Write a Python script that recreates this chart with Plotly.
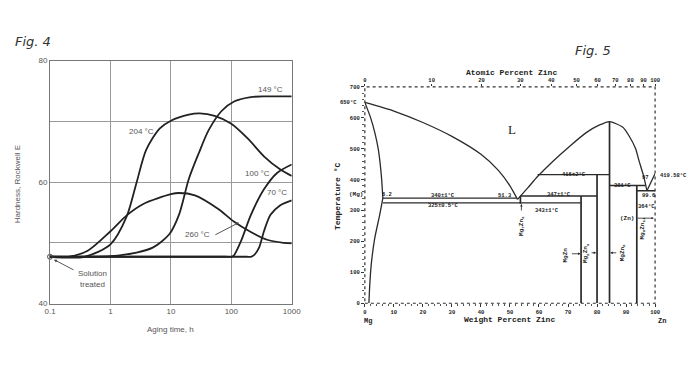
import plotly.graph_objects as go

W, H = 700, 370
def PX(x): return x / W
def PY(y): return 1 - y / H

# ---------------- Fig. 4 data (aging time h, hardness Rockwell E) ----------------
time_260 = [0.1, 0.2, 0.42, 1, 1.9, 3.5, 10, 13.5, 25, 60, 110, 200, 390, 730, 1000]
hard_260 = [47.7, 47.7, 48.7, 51.9, 54.6, 56.4, 58.0, 58.2, 57.8, 55.6, 53.5, 51.9, 50.5, 50.0, 49.9]
time_204 = [0.1, 0.37, 1, 1.85, 2.7, 3.9, 6.5, 10, 19.8, 30, 53, 100, 190, 350, 640, 1000]
hard_204 = [47.7, 47.7, 49.75, 54.3, 59.9, 65.3, 68.8, 70.1, 71.1, 71.3, 70.9, 69.6, 67.1, 64.2, 62.1, 61.0]
time_149 = [0.1, 0.42, 1, 2.7, 5, 9.4, 13.6, 19.8, 28.8, 42, 69, 113, 210, 390, 1000]
hard_149 = [47.7, 47.7, 47.8, 48.4, 49.2, 51.4, 54.6, 60.5, 64.7, 68.5, 71.7, 73.3, 74.0, 74.1, 74.1]
time_100 = [0.1, 80, 100, 110, 145, 211, 347, 571, 1000]
hard_100 = [47.7, 47.7, 47.7, 47.9, 50.3, 54.6, 58.8, 61.5, 62.9]
time_70 = [0.1, 180, 211, 240, 288, 347, 445, 647, 1000]
hard_70 = [47.7, 47.7, 47.7, 48.0, 49.2, 51.9, 54.6, 56.2, 57.0]
solution_time = [0.1]
solution_hard = [47.7]

# ---------------- Fig. 5 data (weight % Zn, temperature C) ----------------
liq_mg_wt = [0, 10, 20, 30, 40, 46, 50, 52.6]
liq_mg_T = [650, 622, 585, 540, 482, 430, 380, 336]
sol_mg_wt = [0, 2, 3.5, 4.6, 5.3, 5.8, 6.2]
sol_mg_T = [650, 600, 550, 500, 450, 400, 340]
solv_mg_wt = [6.2, 5.9, 5.1, 3.4, 2.2, 1.7, 1.4]
solv_mg_T = [340, 325, 285, 210, 125, 60, 0]
dome_wt = [52.6, 56.2, 59.5, 65.2, 70.8, 76.4, 80.9, 84.3, 88.8, 91, 93.3, 94.4, 96.1, 97.2]
dome_T = [336, 374, 410, 463, 510, 553, 577, 588, 570, 542, 500, 463, 410, 364]
liq_zn_wt = [97.2, 100]
liq_zn_T = [364, 419.58]
iso_T = [340, 325, 347, 416, 381, 364]
iso_wt0 = [6.2, 6.2, 53.6, 59.5, 84.3, 93.7]
iso_wt1 = [52.3, 74.5, 80, 84.3, 96.6, 100]
comp_wt = [53.6, 74.5, 80, 84.3, 93.7]
comp_T0 = [322, 0, 0, 0, 0]
comp_T1 = [347, 347, 416, 588, 381]
at_ticks = [0, 10, 20, 30, 40, 50, 60, 70, 80, 90, 100]
wt_ticks = [0, 10, 20, 30, 40, 50, 60, 70, 80, 90, 100]
T_ticks = [0, 100, 200, 300, 400, 500, 600, 700]

M_ZN, M_MG = 65.38, 24.305
def at_to_wt(a):
    return 100.0 * a * M_ZN / (a * M_ZN + (100 - a) * M_MG)

F4 = "Liberation Sans"
F5 = "Liberation Mono"
C4 = "#555555"
LC = "#222222"

fig = go.Figure()

# ---- Fig 4 curves ----
for t, h in [(time_260, hard_260), (time_204, hard_204), (time_149, hard_149),
             (time_100, hard_100), (time_70, hard_70)]:
    fig.add_trace(go.Scatter(x=t, y=h, mode="lines", xaxis="x", yaxis="y",
                             line=dict(color=LC, width=1.8, shape="spline", smoothing=0.8),
                             showlegend=False, hoverinfo="skip"))
fig.add_trace(go.Scatter(x=solution_time, y=solution_hard, mode="markers", xaxis="x", yaxis="y",
                         marker=dict(symbol="circle-open", size=5, color="#444", line=dict(width=1)),
                         showlegend=False, cliponaxis=False, hoverinfo="skip"))

# ---- Fig 5 lines ----
P5 = dict(color="#2a2a2a", width=1.3)
for wts, Ts in [(liq_mg_wt, liq_mg_T), (sol_mg_wt, sol_mg_T), (solv_mg_wt, solv_mg_T),
                (dome_wt, dome_T), (liq_zn_wt, liq_zn_T)]:
    fig.add_trace(go.Scatter(x=wts, y=Ts, mode="lines", xaxis="x2", yaxis="y2",
                             line=dict(P5, shape="spline", smoothing=0.6),
                             showlegend=False, hoverinfo="skip"))
iso_x, iso_y = [], []
for a, b, T in zip(iso_wt0, iso_wt1, iso_T):
    iso_x += [a, b, None]; iso_y += [T, T, None]
fig.add_trace(go.Scatter(x=iso_x, y=iso_y, mode="lines", xaxis="x2", yaxis="y2",
                         line=P5, showlegend=False, hoverinfo="skip"))
cx, cy = [], []
for w, t0, t1 in zip(comp_wt, comp_T0, comp_T1):
    cx += [w, w, None]; cy += [t0, t1, None]
fig.add_trace(go.Scatter(x=cx, y=cy, mode="lines", xaxis="x2", yaxis="y2",
                         line=dict(color="#2a2a2a", width=1.7), showlegend=False, hoverinfo="skip"))
# invisible trace so the top (atomic percent) axis is drawn
fig.add_trace(go.Scatter(x=[0, 100], y=[0, 0], mode="lines", xaxis="x3", yaxis="y2",
                         line=dict(width=0, color="rgba(0,0,0,0)"), showlegend=False, hoverinfo="skip"))

ann = []
def txt(x, y, s, size=8, font=F4, color=C4, angle=0, xanchor="center", **kw):
    ann.append(dict(x=PX(x), y=PY(y), xref="paper", yref="paper", text=s, showarrow=False,
                    textangle=angle, xanchor=xanchor, yanchor="middle",
                    font=dict(family=font, size=size, color=color, **kw)))
def arrow(x0, y0, x1, y1, color="#333", width=0.9, size=0.7):
    ann.append(dict(x=PX(x1), y=PY(y1), xref="paper", yref="paper", ax=x0 - x1, ay=y0 - y1,
                    axref="pixel", ayref="pixel", text="", showarrow=True, arrowhead=2,
                    arrowsize=size, arrowwidth=width, arrowcolor=color))

# Fig 4 annotations
txt(28, 38, "Fig. 4", size=13, font="DejaVu Sans", color="#333", style="italic")
txt(12, 185, "Hardness, Rockwell E", size=8, angle=-90)
txt(168, 334, "Aging time, h", size=8)
txt(270, 88, "149 °C", size=8)
txt(138, 131, "204 °C", size=8)
txt(257, 174, "100 °C", size=8)
txt(277, 193, "70 °C", size=8)
txt(196, 236, "260 °C", size=8)
arrow(213, 237, 238, 224, color="#444")
txt(88, 276, "Solution", size=8)
txt(88, 287, "treated", size=8)
arrow(70, 273, 49, 262, color="#444")

# Fig 5 annotations
S = 5.5
DK = "#222222"
txt(600, 48, "Fig. 5", size=13, font="DejaVu Sans", color="#333", style="italic")
txt(517, 70, "Atomic Percent Zinc", size=8, font=F5, color=DK, weight="bold")
txt(515, 323, "Weight Percent Zinc", size=8, font=F5, color=DK, weight="bold")
txt(338, 197, "Temperature °C", size=8, font=F5, color=DK, angle=-90, weight="bold")
txt(370, 325, "Mg", size=7, font=F5, color=DK, weight="bold")
txt(670, 325, "Zn", size=7, font=F5, color=DK, weight="bold")
txt(517, 129, "L", size=13, font="Liberation Serif", color=DK)
txt(350, 101, "650°C", size=S, font=F5, color=DK, weight="bold")
txt(367, 195, "(Mg)", size=6, font=F5, color=DK, weight="bold", xanchor="right")
txt(389, 195, "6.2", size=S, font=F5, color=DK, weight="bold")
txt(447, 196, "340±1°C", size=S, font=F5, color=DK, weight="bold")
txt(447, 207, "325±0.5°C", size=S, font=F5, color=DK, weight="bold")
txt(510, 196, "51.3", size=S, font=F5, color=DK, weight="bold")
txt(580, 175, "416±2°C", size=S, font=F5, color=DK, weight="bold")
txt(565, 195, "347±1°C", size=S, font=F5, color=DK, weight="bold")
txt(553, 212, "343±1°C", size=S, font=F5, color=DK, weight="bold")
txt(630, 186, "381°C", size=S, font=F5, color=DK, weight="bold")
txt(654, 178, "97", size=S, font=F5, color=DK, weight="bold")
txt(682, 176, "419.58°C", size=S, font=F5, color=DK, weight="bold")
txt(657, 196, "99.6", size=S, font=F5, color=DK, weight="bold")
txt(655, 208, "364°C", size=S, font=F5, color=DK, weight="bold")
txt(635, 219.5, "(Zn)", size=6, font=F5, color=DK, weight="bold")
arrow(644, 219.5, 662, 219.5, color=DK, width=0.8, size=0.6)
txt(526.7, 227, "Mg<sub>7</sub>Zn<sub>3</sub>", size=6, font=F5, color=DK, angle=-90, weight="bold")
arrow(526.7, 213, 526.7, 205, color=DK, width=0.8, size=0.6)
txt(572, 257, "MgZn", size=6, font=F5, color=DK, angle=-90, weight="bold")
arrow(577, 256, 587, 256, color=DK, width=0.8, size=0.6)
txt(593, 255, "Mg<sub>2</sub>Zn<sub>3</sub>", size=6, font=F5, color=DK, angle=-90, weight="bold")
arrow(597, 255, 603, 255, color=DK, width=0.8, size=0.6)
txt(630, 255, "MgZn<sub>2</sub>", size=6, font=F5, color=DK, angle=-90, weight="bold")
arrow(625, 255, 617.5, 255, color=DK, width=0.8, size=0.6)
txt(650, 230, "Mg<sub>2</sub>Zn<sub>11</sub>", size=6, font=F5, color=DK, angle=-90, weight="bold")

shapes = [dict(type="rect", xref="x2 domain", yref="y2 domain", x0=0, x1=1, y0=0, y1=1,
               line=dict(color="#333", width=1.2, dash="dot"), layer="above")]

tick5 = dict(family=F5, size=5.5, color=DK, weight="bold")
fig.update_layout(
    width=W, height=H, autosize=False,
    margin=dict(l=0, r=0, t=0, b=0),
    paper_bgcolor="white", plot_bgcolor="white",
    annotations=ann, shapes=shapes, hovermode=False,
    xaxis=dict(type="log", range=[-1, 3], domain=[PX(45), PX(292)], anchor="y",
               tickvals=[0.1, 1, 10, 100, 1000], ticktext=["0.1", "1", "10", "100", "1000"],
               showgrid=True, gridcolor="#9a9a9a", gridwidth=1, zeroline=False,
               showline=True, mirror=True, linecolor="#777", linewidth=1, ticks="",
               tickfont=dict(family=F4, size=8, color=C4)),
    yaxis=dict(range=[40, 80], domain=[PY(307), PY(58)], anchor="x",
               tickvals=[40, 50, 60, 70, 80], ticktext=["40", "", "60", "", "80"],
               showgrid=True, gridcolor="#9a9a9a", gridwidth=1, zeroline=False,
               showline=True, mirror=True, linecolor="#777", linewidth=1, ticks="",
               tickfont=dict(family=F4, size=8, color=C4)),
    xaxis2=dict(range=[0, 100], domain=[PX(366.7), PX(663.3)], anchor="y2",
                tickvals=wt_ticks, ticktext=[str(v) for v in wt_ticks],
                showgrid=False, zeroline=False, showline=False,
                ticks="outside", ticklen=3, tickcolor="#333", tickwidth=1,
                minor=dict(dtick=2, ticks="outside", ticklen=1.5, tickcolor="#555"),
                tickfont=tick5),
    yaxis2=dict(range=[0, 700], domain=[PY(306.7), PY(85)], anchor="x2",
                tickvals=T_ticks, ticktext=[str(v) for v in T_ticks],
                showgrid=False, zeroline=False, showline=False,
                ticks="outside", ticklen=3, tickcolor="#333", tickwidth=1,
                minor=dict(dtick=20, ticks="outside", ticklen=1.5, tickcolor="#555"),
                tickfont=tick5),
    xaxis3=dict(range=[0, 100], overlaying="x2", side="top", anchor="y2",
                tickvals=[at_to_wt(a) for a in at_ticks], ticktext=[str(a) for a in at_ticks],
                showgrid=False, zeroline=False, showline=False,
                ticks="outside", ticklen=2, tickcolor="#333", tickwidth=1,
                tickfont=tick5),
)
fig.write_html("out.html", config={"displayModeBar": False, "staticPlot": True},
               post_script="document.body.style.margin='0px';document.body.style.overflow='hidden';")
